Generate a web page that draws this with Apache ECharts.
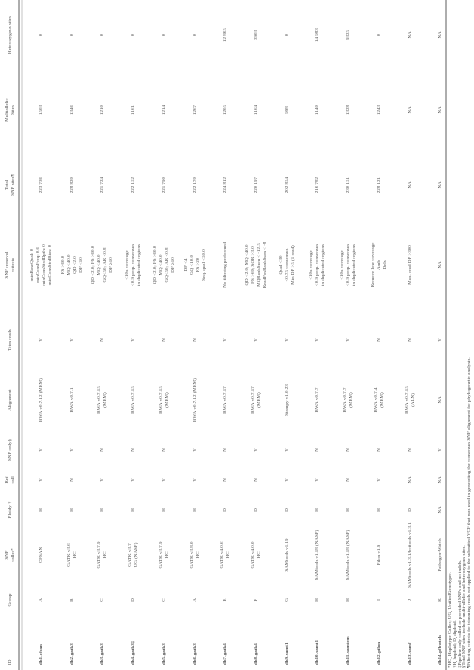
<!DOCTYPE html>
<html>
<head>
<meta charset="utf-8">
<script src="https://cdn.jsdelivr.net/npm/echarts@6/dist/echarts.min.js"></script>
<style>html,body{margin:0;padding:0;background:#fff}#main{width:474px;height:670px}</style>
</head>
<body>
<div id="main"></div>
<script>
//表头
var headers=["ID","Group","SNP\ncaller*","Ploidy †","Ref\ncall","SNP only§","Alignment","Trim reads","SNP removal\ncriteria","Total\nSNP sites¶","Multiallelic\nSites","Heterozygous sites"];
var ids=["dh1-cfsan","dh2-gatk3","dh3-gatk3","dh4-gatk3‡","dh5-gatk3","dh6-gatk3","dh7-gatk4","dh8-gatk4","dh9-samt1","dh10-samt1","dh11-samtrm","dh12-pilon","dh13-samf","dh14-pfbwtch"];
var groups=["A","B","C","D","C","A","E","F","G","H","H","I","J","K"];
var callers=["CFSAN","GATK v3.6\nHC","GATK v3.7.9\nHC","GATK v3.7\nUG (NASP)","GATK v3.7.9\nHC","GATK v3.8.0\nHC","GATK v4.0.6\nHC","GATK v4.0.0\nHC","SAMtools v1.19","SAMtools v1.18 (NASP)","SAMtools v1.18 (NASP)","Pilon v1.9","SAMtools v1.3.1/bcftools v1.3.1","Pathogen-Watch"];
var ploidy=["H","H","H","H","H","H","D","D","D","H","H","H","D","NA"];
var refCall=["Y","N","Y","Y","Y","Y","N","N","Y","Y","N","Y","NA","NA"];
var snpOnly=["Y","Y","N","N","N","Y","N","Y","Y","N","N","N","N","Y"];
var alignment=["BWA v0.7.12 (MEM)","BWA v0.7.1","BWA v0.7.15\n(MEM)","BWA v0.7.15","BWA v0.7.15\n(MEM)","BWA v0.7.12 (MEM)","BWA v0.7.17","BWA v0.7.17\n(MEM)","Stampy v1.0.23","BWA v0.7.7","BWA v0.7.7\n(MEM)","BWA v0.7.4\n(MEM)","BWA v0.7.15\n(ALN)","NA"];
var trimReads=["Y","Y","N","Y","N","N","Y","Y","Y","Y","Y","N","N","Y"];
var criteria=["minBaseQual: 0\nminConsFreq: 0.6\nminConsStrdDpth: 0\nminConsStrdBias: 0","FS >60.0\nMQ <40.0\nQD <2.0\nDP <10","QD <2.0; FS >60.0\nMQ <40.0\nGQ<50; AR <0.8\nDP ≥10","<10x coverage\n<0.9 prop. consensus\nin duplicated regions","QD <2.0; FS >60.0\nMQ <40.0\nGQ<50; AR <0.8\nDP ≥10","DP <4\nGQ <10.0\nFS >20\nSeq. qual <50.0","No filtering performed","QD <2.0; MQ <40.0\nFS >60; SOR >3.0\nMQRankSum < -12.5\nReadPosRankSum < -8","Qual <30\n<0.75 consensus\nMin DP >5 (1 read)","<10x coverage\n<0.9 prop. consensus\nin duplicated regions","<10x coverage\n<0.9 prop. consensus\nin duplicated regions","Remove low coverage\nAmb\nDels","Max. read DP >300","NA"];
var totalSites=["223 736","228 820","221 724","222 152","221 790","222 170","224 812","220 197","202 854","216 782","230 151","228 121","NA","NA"];
var multiSites=["1503","1346","1210","1161","1214","1267","1205","1164","998","1140","1328","1243","NA","NA"];
var hetSites=["0","0","0","0","0","0","12 865","3903","0","14 983","9325","0","NA","NA"];
var footnotes=["*HC, Haplotype Caller; UG, UnifiedGenotyper.","†H, haploid; D, diploid.","‡Pipeline only called or provided SNPs and no indels.","§Total SNP sites include multi-allelic and heterozygous sites.","¶Filtering criteria for trimming reads not applied to the submitted VCF that was used in generating the consensus SNP alignment for phylogenetic analysis."];

//执行函数
var drawTable=function () {
	var myChart=echarts.init(document.getElementById('main'));
	var rows=['hdr'].concat(ids);
	var cols=[ids,groups,callers,ploidy,refCall,snpOnly,alignment,trimReads,criteria,totalSites,multiSites,hetSites];
	//列中心位置(版式)
	var colPos=[665,600,555,510,480,450,400,340,265,185,110,35];
	var cells=[];
	headers.forEach(function (h,c) {
		cells.push({value:['hdr',colPos[c],h],label:{align:c===0?'left':'center'}});
	});
	cols.forEach(function (col,c) {
		col.forEach(function (v,r) {
			cells.push({value:[ids[r],colPos[c],v],label:{align:c===0?'left':'center',fontWeight:c===0?'bold':'normal'}});
		});
	});
	var option={
		animation:false,
		grid:{left:10,right:34,top:0,bottom:0},
		xAxis:{type:'category',data:rows,boundaryGap:false,show:false},
		yAxis:{type:'value',min:0,max:670,inverse:true,show:false},
		series:[{
			type:'scatter',
			symbolSize:0,
			data:cells,
			label:{
				show:true,
				position:'inside',
				rotate:90,
				verticalAlign:'middle',
				fontFamily:'Liberation Serif',
				fontSize:5,
				lineHeight:6,
				color:'#222',
				formatter:function (p) {return p.value[2];}
			}
		}],
		graphic:[
			{type:'line',shape:{x1:19,y1:0,x2:19,y2:670},style:{stroke:'#333',lineWidth:0.8}},
			{type:'line',shape:{x1:22,y1:0,x2:22,y2:670},style:{stroke:'#666',lineWidth:0.4}},
			{type:'line',shape:{x1:446,y1:0,x2:446,y2:670},style:{stroke:'#333',lineWidth:0.8}}
		].concat(footnotes.map(function (t,i) {
			return {type:'text',x:450+i*4.6,y:668,rotation:Math.PI/2,
				style:{text:t,font:'5px "Liberation Serif"',fill:'#444',textAlign:'left',textVerticalAlign:'middle'}};
		}))
	};
	myChart.setOption(option);
};
drawTable();
</script>
</body>
</html>
